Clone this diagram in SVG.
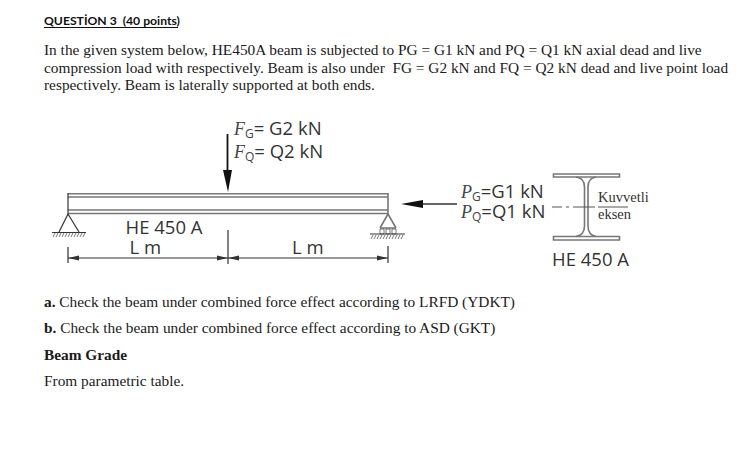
<svg xmlns="http://www.w3.org/2000/svg" width="740" height="464" viewBox="0 0 740 464">
<style>
text{white-space:pre}
.b{font-family:"Liberation Serif","Times New Roman",serif;font-size:15.35px;fill:#1a1a1a}
.bold{font-weight:bold}
.s{font-family:"Open Sans","Noto Sans",sans-serif;font-size:18.5px;fill:#333}
.i{font-family:"Liberation Serif",serif;font-style:italic;font-size:18px;fill:#444}
.sub{font-family:"Open Sans",sans-serif;font-size:12px;fill:#444}
.k{font-family:"Liberation Serif",serif;font-size:14.5px;fill:#333}
.l{stroke:#333;stroke-width:1.2;fill:none}
.g{stroke:#777;stroke-width:1.6;fill:none}
.h{stroke:#555;stroke-width:.8;fill:none}
</style>
<rect width="740" height="464" fill="#fff"/>
<g id="statement">
<text x="44" y="25" font-family="Lato,sans-serif" font-weight="bold" font-size="12.2" fill="#111">QUESTİON 3  (40 points)</text>
<path d="M44 27.500H178" stroke="#111" stroke-width="1" fill="none"/>
<text class="b" x="44" y="55">In the given system below, HE450A beam is subjected to PG = G1 kN and PQ = Q1 kN axial dead and live</text>
<text class="b" x="44" y="72.500">compression load with respectively. Beam is also under  FG = G2 kN and FQ = Q2 kN dead and live point load</text>
<text class="b" x="44" y="90">respectively. Beam is laterally supported at both ends.</text>
</g>
<g id="beam">
<path class="g" d="M68 193.800H388M68 197H388M68 210H388M68 213.500H388"/>
<path class="l" d="M68 193V214"/>
<path class="g" d="M388 193V214"/>
</g>
<g id="support-left">
<path class="l" d="M68 214L59 232M68 214L79 232M52 232.500H86"/>
<path class="h" d="M55 233L53 237M58 233L56 237M61 233L59 237M64 233L62 237M67 233L65 237M70 233L68 237M73 233L71 237M76 233L74 237M79 233L77 237M82 233L80 237M85 233L83 237"/>
</g>
<g id="support-right">
<path class="g" d="M388 214L380 228M388 214L396 228M380 228H396"/>
<path class="h" d="M380 229h4v5h-4zM386 229h4v5h-4zM392 229h4v5h-4z"/>
<path class="l" d="M370 234H405"/>
<path class="h" d="M373 235L371 239M376 235L374 239M379 235L377 239M382 235L380 239M385 235L383 239M388 235L386 239M391 235L389 239M394 235L392 239M397 235L395 239M400 235L398 239M403 235L401 239"/>
</g>
<g id="connectors">
<path d="M227.500 134V172" stroke="#111" stroke-width="1.800" fill="none"/>
<path d="M223 170L232 170L228 192Z" fill="#111"/>
<path d="M423 204H457" stroke="#333" stroke-width="1.400" fill="none"/>
<path d="M401 204L423 200V208Z" fill="#111"/>
<path class="l" d="M68 247V263M228 230V264M388 246V263M68 258H388"/>
<path d="M68 258L79 255.500V260.500ZM228 258L217 255.500V260.500ZM228 258L239 255.500V260.500ZM388 258L377 255.500V260.500Z" fill="#333"/>
</g>
<g id="load-f">
<text x="234" y="135"><tspan class="i">F</tspan><tspan class="sub" dy="3">G</tspan><tspan class="s" dy="-3">= G2 kN</tspan></text>
<text x="234" y="158"><tspan class="i">F</tspan><tspan class="sub" dy="3">Q</tspan><tspan class="s" dy="-3">= Q2 kN</tspan></text>
</g>
<g id="label-beam">
<text class="s" x="125.500" y="234">HE 450 A</text>
<text class="s" x="129.500" y="254">L m</text>
<text class="s" x="292" y="254">L m</text>
</g>
<g id="load-p">
<text x="461" y="198"><tspan class="i">P</tspan><tspan class="sub" dy="3">G</tspan><tspan class="s" dy="-3">=G1 kN</tspan></text>
<text x="461" y="218"><tspan class="i">P</tspan><tspan class="sub" dy="3">Q</tspan><tspan class="s" dy="-3">=Q1 kN</tspan></text>
</g>
<g id="section">
<path class="g" d="M553.500 174H619.500V177H553.500ZM553.500 236.500H619.500V240H553.500Z"/>
<path class="g" d="M576 177Q584.500 178 584.500 187V226Q584.500 235 576 236.500M596 177Q588 178 588 187V226Q588 235 596 236.500"/>
<path d="M552 207H562M566 207H569M573 207H595M598 207H628" stroke="#555" stroke-width="1" fill="none"/>
<text class="k" x="598" y="202">Kuvvetli</text>
<text class="k" x="598" y="219">eksen</text>
<text class="s" x="552" y="266">HE 450 A</text>
</g>
<g id="questions">
<text class="b" x="44" y="307"><tspan class="bold">a.</tspan> Check the beam under combined force effect according to LRFD (YDKT)</text>
<text class="b" x="44" y="333"><tspan class="bold">b.</tspan> Check the beam under combined force effect according to ASD (GKT)</text>
<text class="b bold" x="44" y="360">Beam Grade</text>
<text class="b" x="44" y="385.500">From parametric table.</text>
</g>
</svg>
